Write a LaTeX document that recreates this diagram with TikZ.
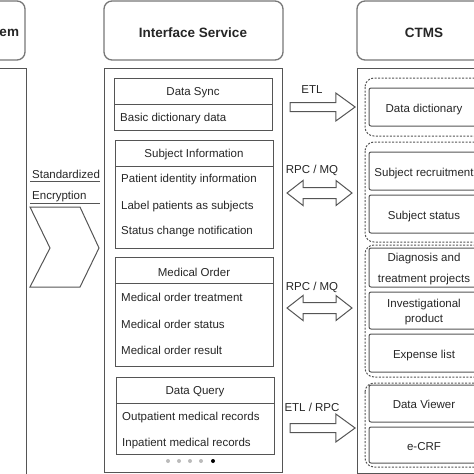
\documentclass[tikz,border=0pt]{standalone}
\usepackage{fontspec}
\setmainfont{Liberation Sans}
\usetikzlibrary{shapes.arrows}
\definecolor{linegray}{HTML}{555555}
\definecolor{headgray}{HTML}{777777}
\definecolor{txtgray}{HTML}{262626}
\definecolor{dotgray}{HTML}{BBBBBB}
\tikzset{
  head/.style={draw=headgray,line width=1.3pt,rounded corners=8pt},
  htext/.style={yshift=-1pt,font=\fontsize{13.5}{15}\selectfont\bfseries},
  body/.style={draw=linegray,line width=1pt},
  item/.style={anchor=west,inner sep=0pt,yshift=-2pt,font=\fontsize{11.5}{13}\selectfont},
  ctitle/.style={inner sep=0pt,yshift=-2pt,font=\fontsize{11.5}{13}\selectfont},
  rbox/.style={draw=linegray,line width=1pt,rounded corners=2pt,minimum width=110pt,align=center,text depth=0pt,font=\fontsize{11.5}{13}\selectfont},
  grp/.style={draw=linegray,line width=1pt,dash pattern=on 2pt off 1.5pt,rounded corners=9pt},
  sarrow/.style={draw=linegray,line width=1pt,single arrow,single arrow head extend=9.5pt,single arrow tip angle=72,minimum height=65pt,inner sep=4pt},
  darrow/.style={draw=linegray,line width=1pt,double arrow,double arrow head extend=7pt,double arrow tip angle=76,minimum height=65pt,inner sep=5pt}
}
\begin{document}
\begin{tikzpicture}[x=1pt,y=-1pt,text=txtgray]
\useasboundingbox (0,0) rectangle (474,474);
\clip (0,0) rectangle (474,474);
% left column
\draw[head] (-110,1) rectangle (25,60);
\node[htext] (sys) at (-5,32) {System};
\draw[body] (-110,68) rectangle (26,490);
\node[item] (std) at (32,172) {Standardized};
\draw[linegray,line width=1pt] (30,181) -- (100,181);
\node[item] (enc) at (32,195) {Encryption};
\draw[linegray,line width=1pt] (30,203) -- (100,203);
\draw[linegray,line width=1pt] (30,207) -- (80,207) -- (99,248) -- (80,287) -- (30,287) -- (50,248) -- cycle;
% interface service
\draw[head] (104,1) rectangle (283,60);
\node[htext] (iface) at (193,32) {Interface Service};
\draw[body] (104,68) rectangle (282,472);
% data sync
\draw[body] (114,78) rectangle (272,130);
\draw[linegray,line width=1pt] (114,104) -- (272,104);
\node[ctitle] (sync) at (193,91) {Data Sync};
\node[item] (dict) at (120,117) {Basic dictionary data};
% subject information
\draw[body] (115,140) rectangle (273,248);
\draw[linegray,line width=1pt] (115,166) -- (273,166);
\node[ctitle] (subj) at (194,153) {Subject Information};
\node[item] (s1) at (121,178) {Patient identity information};
\node[item] (s2) at (121,205) {Label patients as subjects};
\node[item] (s3) at (121,230) {Status change notification};
% medical order
\draw[body] (115,257) rectangle (273,366);
\draw[linegray,line width=1pt] (115,283) -- (273,283);
\node[ctitle] (order) at (194,270) {Medical Order};
\node[item] (m1) at (121,295) {Medical order treatment};
\node[item] (m2) at (121,322) {Medical order status};
\node[item] (m3) at (121,348) {Medical order result};
% data query
\draw[body] (116,377) rectangle (274,454);
\draw[linegray,line width=1pt] (116,403) -- (274,403);
\node[ctitle] (query) at (195,390) {Data Query};
\node[item] (q1) at (122,416) {Outpatient medical records};
\node[item] (q2) at (122,442) {Inpatient medical records};
\foreach \dx in {168,179,190,201}
  \fill[dotgray] (\dx,461) circle (2);
\fill[black] (213,461) circle (2);
% ctms
\draw[head] (357,1) rectangle (495,60);
\node[htext] (ctms) at (424,32) {CTMS};
\draw[body] (357,68) rectangle (495,473);
\draw[grp] (365,78) rectangle (486,136);
\draw[grp] (365,142) rectangle (486,242);
\draw[grp] (365,245) rectangle (486,377);
\draw[grp] (365,383) rectangle (486,467);
\node[rbox,minimum height=38pt,text height=10.5pt] (ddict) at (424,107) {Data dictionary};
\node[rbox,minimum height=38pt,text height=10.5pt] (recr) at (424,171) {Subject recruitment};
\node[rbox,minimum height=38pt,text height=10.5pt] (sstat) at (424,214) {Subject status};
\node[rbox,minimum height=39pt,font=\fontsize{11.5}{21}\selectfont] (diag) at (424,267.5) {Diagnosis and\\treatment projects};
\node[rbox,minimum height=37pt,font=\fontsize{11.5}{15}\selectfont] (ip) at (424,310.5) {Investigational\\product};
\node[rbox,minimum height=38pt,text height=10.5pt] (exp) at (424,353) {Expense list};
\node[rbox,minimum height=37pt,text height=10.5pt] (viewer) at (424,403.5) {Data Viewer};
\node[rbox,minimum height=36pt,text height=10.5pt] (ecrf) at (424,445) {e-CRF};
% arrows between columns
\node[sarrow] (a1) at (319.5,107) {};
\node[ctitle] at (312,88) {ETL};
\node[darrow] (a2) at (319.5,193) {};
\node[ctitle] at (312,168) {RPC / MQ};
\node[darrow] (a3) at (319.5,308) {};
\node[ctitle] at (312,285) {RPC / MQ};
\node[sarrow] (a4) at (319.5,428) {};
\node[ctitle] at (312,405) {ETL / RPC};
\end{tikzpicture}
\end{document}
